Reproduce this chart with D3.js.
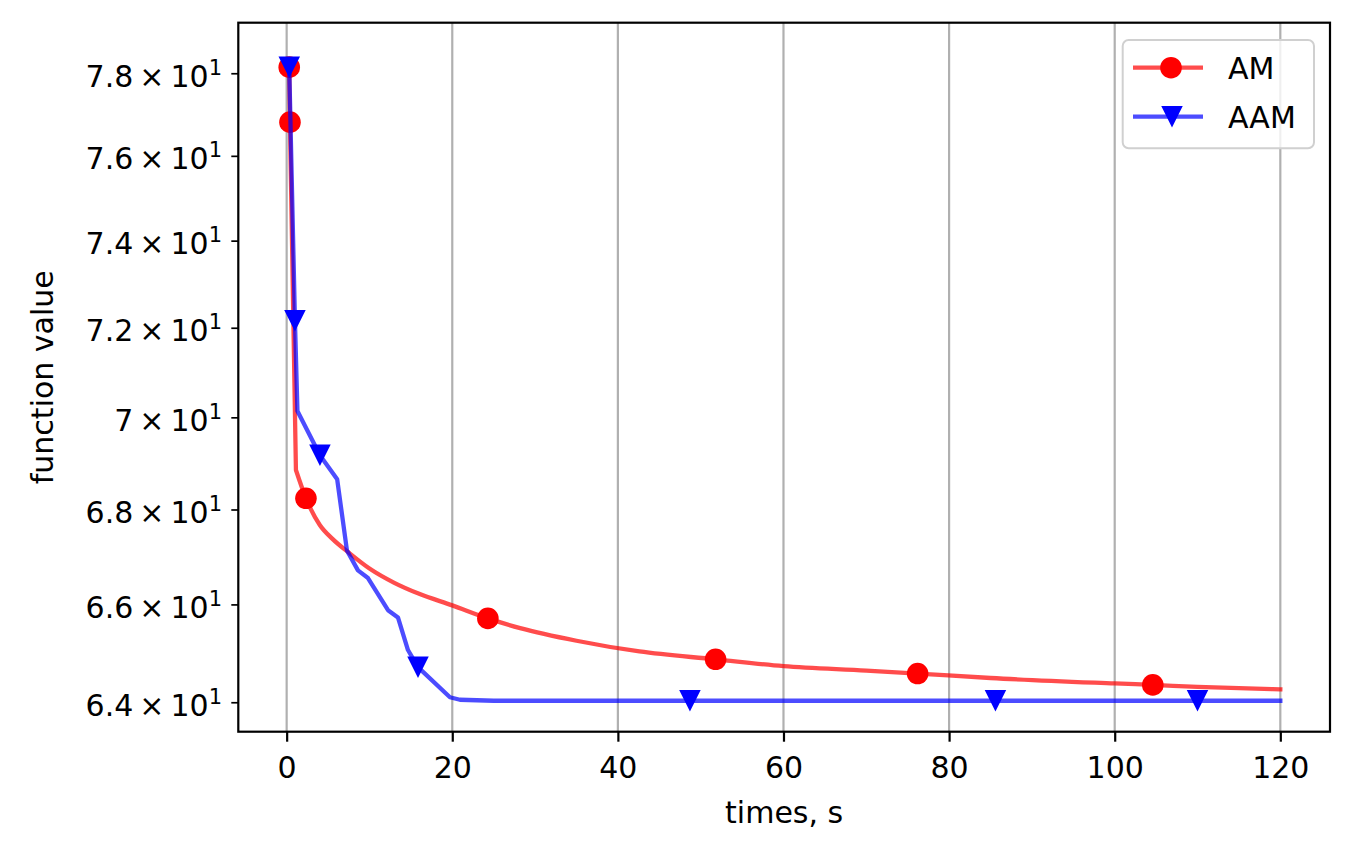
<!DOCTYPE html>
<html>
<head>
<meta charset="utf-8">
<script src="https://cdn.jsdelivr.net/npm/d3@7"></script>
<style>
  body { margin: 0; background: #fff; }
  text { font-family: "DejaVu Sans", sans-serif; }
</style>
</head>
<body>
<script>
// AM series (time in s, function value)
var amTime  = [0.31, 0.40, 1.12, 2.33, 4.0, 5.5, 7.6, 10, 13, 16, 20, 24.3, 28.2, 35, 42.6, 51.8, 60, 70, 76.2, 85, 100, 104.6, 110, 120];
var amValue = [78.15, 76.81, 68.85, 68.24, 67.67, 67.38, 67.07, 66.75, 66.45, 66.22, 65.98, 65.71, 65.51, 65.25, 65.03, 64.87, 64.73, 64.64, 64.58, 64.49, 64.38, 64.35, 64.31, 64.26];
var amMarks = [0, 1, 3, 11, 15, 18, 21];

// AAM series
var aamTime  = [0.31, 1.0, 1.3, 4.02, 6.1, 7.28, 8.61, 9.82, 12.24, 13.44, 14.65, 15.86, 19.72, 20.92, 25, 48.7, 85.6, 110, 120];
var aamValue = [78.15, 72.16, 70.14, 69.17, 68.65, 67.13, 66.71, 66.55, 65.88, 65.73, 65.06, 64.71, 64.10, 64.05, 64.03, 64.03, 64.03, 64.03, 64.03];
var aamMarks = [0, 1, 3, 11, 15, 16, 17];

var xTicks = [0, 20, 40, 60, 80, 100, 120];
var yTicks = [64, 66, 68, 70, 72, 74, 76, 78];
var yMant  = ["6.4", "6.6", "6.8", "7", "7.2", "7.4", "7.6", "7.8"];

var W = 1356, H = 860;
var plotL = 238.3, plotR = 1330, plotT = 22.7, plotB = 731.7;
var fs = 30;

var svg = d3.select('body').append('svg').attr('width', W).attr('height', H);

var x = d3.scaleLinear().domain([-5.84, 126.0]).range([plotL, plotR]);
var y = d3.scaleLog().domain([63.41, 79.25]).range([plotB, plotT]);

// grid (x only)
svg.append('g').selectAll('line').data(xTicks).enter().append('line')
  .attr('x1', function(d){ return x(d); }).attr('x2', function(d){ return x(d); })
  .attr('y1', plotT).attr('y2', plotB)
  .attr('stroke', '#b0b0b0').attr('stroke-width', 2.2);

function series(ts, vs) {
  return ts.map(function(t, i){ return {t: t, v: vs[i]}; });
}
var line = d3.line().x(function(d){ return x(d.t); }).y(function(d){ return y(d.v); });
var smooth = d3.line().curve(d3.curveMonotoneX).x(function(d){ return x(d.t); }).y(function(d){ return y(d.v); });

function triDown(cx, cy, s) {
  var p = d3.path();
  p.moveTo(cx, cy + s / 2);
  p.lineTo(cx - s / 2, cy - s / 2);
  p.lineTo(cx + s / 2, cy - s / 2);
  p.closePath();
  return p.toString();
}

var am = series(amTime, amValue), aam = series(aamTime, aamValue);

// AM: sharp first drop, then a smooth decay
var amPath = line(am.slice(0, 3)) + smooth(am.slice(2)).replace(/^M/, 'L');
svg.append('path').attr('d', amPath).attr('fill', 'none')
  .attr('stroke', 'red').attr('stroke-opacity', 0.7).attr('stroke-width', 4.3)
  .attr('stroke-linejoin', 'round').attr('stroke-linecap', 'square');
svg.append('g').selectAll('circle').data(amMarks.map(function(i){ return am[i]; })).enter()
  .append('circle')
  .attr('cx', function(d){ return x(d.t); }).attr('cy', function(d){ return y(d.v); })
  .attr('r', 10.8).attr('fill', 'red');

// AAM
svg.append('path').attr('d', line(aam)).attr('fill', 'none')
  .attr('stroke', 'blue').attr('stroke-opacity', 0.7).attr('stroke-width', 4.3)
  .attr('stroke-linejoin', 'round').attr('stroke-linecap', 'square');
svg.append('g').selectAll('path').data(aamMarks.map(function(i){ return aam[i]; })).enter()
  .append('path')
  .attr('d', function(d){ return triDown(x(d.t), y(d.v), 21.5); })
  .attr('fill', 'blue');

// axes
var xAxis = d3.axisBottom(x).tickValues(xTicks).tickSize(10).tickPadding(15);
var gx = svg.append('g').attr('transform', 'translate(0,' + plotB + ')').call(xAxis);
gx.select('.domain').remove();
gx.selectAll('line').attr('stroke', '#000').attr('stroke-width', 2.2);
gx.selectAll('text').attr('font-family', 'DejaVu Sans').attr('font-size', fs).attr('fill', '#000');

var yAxis = d3.axisLeft(y).tickValues(yTicks).tickSize(7).tickPadding(9.3).tickFormat(function(){ return ''; });
var gy = svg.append('g').attr('transform', 'translate(' + plotL + ',0)').call(yAxis);
gy.select('.domain').remove();
gy.selectAll('line').attr('stroke', '#000').attr('stroke-width', 1.7);
gy.selectAll('text').attr('font-family', 'DejaVu Sans').attr('font-size', fs).attr('fill', '#000')
  .attr('dy', '0.43em')
  .each(function(d, i){
    var t = d3.select(this);
    t.append('tspan').text(yMant[i] + '\u2009\u00d7\u200910');
    t.append('tspan').attr('font-size', 21).attr('dy', -12).text('1');
  });

// spines
svg.append('rect').attr('x', plotL).attr('y', plotT)
  .attr('width', plotR - plotL).attr('height', plotB - plotT)
  .attr('fill', 'none').attr('stroke', '#000').attr('stroke-width', 2.2);

// labels
svg.append('text').attr('x', (plotL + plotR) / 2).attr('y', 823)
  .attr('text-anchor', 'middle').attr('font-size', fs).text('times, s');
svg.append('text').attr('transform', 'translate(53.3,' + (plotT + plotB) / 2 + ') rotate(-90)')
  .attr('text-anchor', 'middle').attr('font-size', fs).text('function value');

// legend
var lg = svg.append('g');
lg.append('rect').attr('x', 1122.7).attr('y', 40).attr('width', 191.3).attr('height', 108.3)
  .attr('rx', 6).attr('fill', '#fff').attr('fill-opacity', 0.8)
  .attr('stroke', '#d0d0d0').attr('stroke-width', 2);
var rows = [
  {name: 'AM', color: 'red', cy: 67.7, mark: 'circle'},
  {name: 'AAM', color: 'blue', cy: 116.7, mark: 'tri'}
];
rows.forEach(function(r){
  lg.append('line').attr('x1', 1133).attr('x2', 1203).attr('y1', r.cy).attr('y2', r.cy)
    .attr('stroke', r.color).attr('stroke-opacity', 0.7).attr('stroke-width', 4.3);
  if (r.mark === 'circle') {
    lg.append('circle').attr('cx', 1171).attr('cy', r.cy).attr('r', 10.8).attr('fill', r.color);
  } else {
    lg.append('path').attr('d', triDown(1172, r.cy, 21.5)).attr('fill', r.color);
  }
  lg.append('text').attr('x', 1228).attr('y', r.cy + 10.8).attr('font-size', fs).text(r.name);
});
</script>
</body>
</html>
